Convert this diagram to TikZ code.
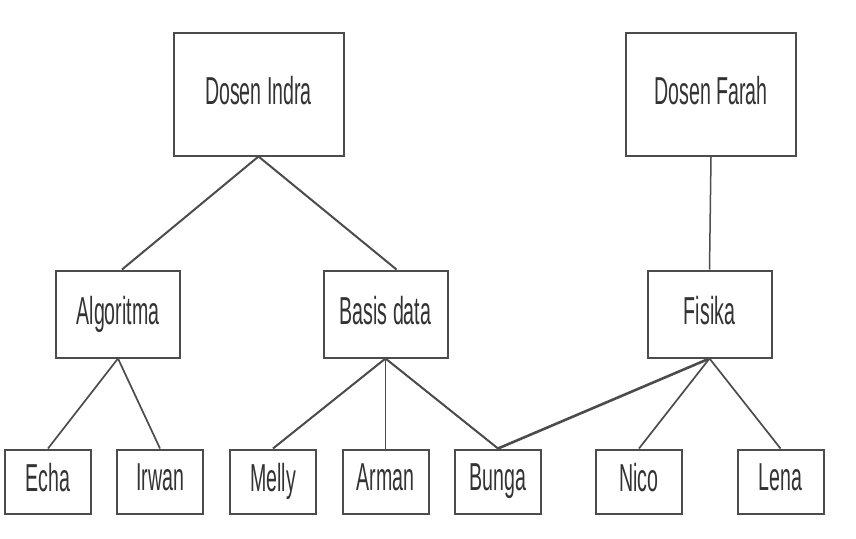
\documentclass[tikz,border=0pt]{standalone}
\usepackage{fontspec}
\setmainfont{Liberation Sans}
\newcommand{\tallfont}[1]{\scalebox{0.98}[1.95]{\vphantom{Ag}#1}}
\begin{document}
\begin{tikzpicture}[
  x=1pt, y=-1pt,
  every node/.style={draw=black!70, line width=2pt, font=\fontsize{20}{22}\selectfont, inner sep=0pt, fill=white, text=black!80},
  dosen/.style={minimum width=170pt, minimum height=123pt},
  kuliah/.style={minimum width=124pt, minimum height=87pt},
  mhs/.style={minimum width=86pt, minimum height=64pt},
  every path/.style={}
]
  \useasboundingbox (0,0) rectangle (856,538);
  % top row: lecturers
  \node[dosen] (indra) at (258.5,94) {\tallfont{Dosen Indra}};
  \node[dosen] (farah) at (711,94) {\tallfont{Dosen Farah}};

  % middle row: courses
  \node[kuliah] (algo) at (118,314) {\tallfont{Algoritma}};
  \node[kuliah] (basis) at (385.5,314) {\tallfont{Basis data}};
  \node[kuliah] (fisika) at (709.5,314) {\tallfont{Fisika}};
  \draw[line width=2pt, black!70] (indra.south) -- ([xshift=4pt]algo.north);
  \draw[line width=2pt, black!70] (indra.south) -- ([xshift=11pt]basis.north);
  \draw[line width=1.5pt, black!70] (farah.south) -- (fisika.north);

  % bottom row: students
  \node[mhs] (echa) at (48,481.5) {\tallfont{Echa}};
  \node[mhs] (irwan) at (160,481.5) {\tallfont{Irwan}};
  \node[mhs] (melly) at (273,481.5) {\tallfont{Melly}};
  \node[mhs] (arman) at (385.5,481.5) {\tallfont{Arman}};
  \node[mhs] (bunga) at (498,481.5) {\tallfont{Bunga}};
  \node[mhs] (nico) at (639,481.5) {\tallfont{Nico}};
  \node[mhs] (lena) at (780.5,481.5) {\tallfont{Lena}};
  \draw[line width=1.7pt, black!70] (algo.south) -- (echa.north);
  \draw[line width=1.7pt, black!70] (algo.south) -- (irwan.north);
  \draw[line width=2pt, black!70] (basis.south) -- (melly.north);
  \draw[line width=1.5pt, black!70] (basis.south) -- (arman.north);
  \draw[line width=2pt, black!70] (basis.south) -- (bunga.north);
  \draw[line width=2.6pt, black!70] (fisika.south) -- (bunga.north);
  \draw[line width=1.7pt, black!70] (fisika.south) -- (nico.north);
  \draw[line width=1.7pt, black!70] (fisika.south) -- (lena.north);
\end{tikzpicture}
\end{document}
